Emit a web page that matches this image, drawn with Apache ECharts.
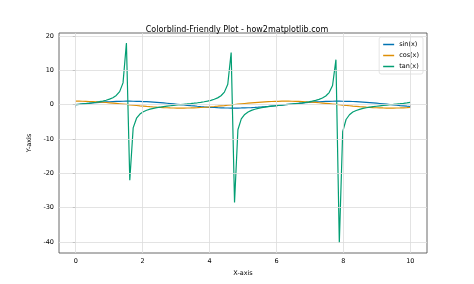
<!DOCTYPE html>
<html>
<head>
<meta charset="utf-8">
<script src="https://cdn.jsdelivr.net/npm/echarts@6/dist/echarts.min.js"></script>
<style>
html,body{margin:0;padding:0;background:#fff;}
#chart{width:474px;height:284px;}
</style>
</head>
<body>
<div id="chart"></div>
<script>
const xs = [0,0.101,0.202,0.303,0.404,0.505,0.606,0.707,0.808,0.909,1.010,1.111,1.212,1.313,1.414,1.515,1.616,1.717,1.818,1.919,2.020,2.121,2.222,2.323,2.424,2.525,2.626,2.727,2.828,2.929,3.030,3.131,3.232,3.333,3.434,3.535,3.636,3.737,3.838,3.939,4.040,4.141,4.242,4.343,4.444,4.545,4.646,4.747,4.848,4.949,5.051,5.152,5.253,5.354,5.455,5.556,5.657,5.758,5.859,5.960,6.061,6.162,6.263,6.364,6.465,6.566,6.667,6.768,6.869,6.970,7.071,7.172,7.273,7.374,7.475,7.576,7.677,7.778,7.879,7.980,8.081,8.182,8.283,8.384,8.485,8.586,8.687,8.788,8.889,8.990,9.091,9.192,9.293,9.394,9.495,9.596,9.697,9.798,9.899,10];

const sinV = [0,0.101,0.201,0.298,0.393,0.484,0.570,0.650,0.723,0.789,0.847,0.896,0.936,0.967,0.988,0.998,0.999,0.989,0.970,0.940,0.901,0.852,0.795,0.730,0.657,0.578,0.493,0.403,0.308,0.211,0.111,0.010,-0.091,-0.191,-0.289,-0.384,-0.475,-0.561,-0.642,-0.716,-0.783,-0.841,-0.892,-0.933,-0.964,-0.986,-0.998,-0.999,-0.991,-0.972,-0.943,-0.905,-0.858,-0.801,-0.737,-0.665,-0.586,-0.502,-0.412,-0.318,-0.221,-0.121,-0.021,0.080,0.180,0.279,0.374,0.466,0.553,0.634,0.709,0.776,0.836,0.887,0.929,0.962,0.984,0.997,1.000,0.992,0.974,0.947,0.907,0.863,0.808,0.744,0.673,0.595,0.511,0.421,0.328,0.231,0.131,0.031,-0.070,-0.170,-0.269,-0.365,-0.457,-0.544];

const cosV = [1,0.995,0.980,0.954,0.919,0.875,0.822,0.760,0.691,0.614,0.532,0.444,0.351,0.255,0.156,0.056,-0.045,-0.146,-0.245,-0.341,-0.434,-0.523,-0.606,-0.683,-0.754,-0.816,-0.870,-0.915,-0.951,-0.978,-0.994,-1.000,-0.996,-0.982,-0.957,-0.923,-0.880,-0.828,-0.767,-0.698,-0.623,-0.540,-0.453,-0.361,-0.265,-0.166,-0.066,0.035,0.136,0.235,0.332,0.425,0.514,0.598,0.676,0.747,0.810,0.865,0.911,0.948,0.975,0.993,1.000,0.997,0.984,0.960,0.927,0.885,0.833,0.773,0.706,0.631,0.548,0.462,0.370,0.275,0.176,0.076,-0.025,-0.125,-0.225,-0.322,-0.421,-0.505,-0.590,-0.668,-0.740,-0.804,-0.860,-0.907,-0.945,-0.973,-0.991,-1.000,-0.998,-0.985,-0.963,-0.931,-0.890,-0.839];

const tanV = [0,0.101,0.205,0.313,0.428,0.553,0.693,0.854,1.046,1.284,1.593,2.020,2.667,3.795,6.331,17.952,-22.029,-6.783,-3.960,-2.753,-2.073,-1.630,-1.312,-1.068,-0.872,-0.708,-0.566,-0.440,-0.324,-0.216,-0.112,-0.010,0.091,0.194,0.301,0.415,0.540,0.678,0.837,1.025,1.257,1.557,1.969,2.586,3.642,5.934,15.146,-28.494,-7.303,-4.138,-2.844,-2.129,-1.668,-1.340,-1.090,-0.891,-0.724,-0.580,-0.452,-0.335,-0.226,-0.122,-0.021,0.081,0.183,0.290,0.403,0.526,0.663,0.819,1.004,1.231,1.525,1.920,2.509,3.501,5.584,13.098,-40.302,-7.906,-4.333,-2.940,-2.153,-1.707,-1.369,-1.113,-0.909,-0.740,-0.594,-0.465,-0.347,-0.237,-0.133,-0.031,0.070,0.173,0.279,0.392,0.513,0.648];

const xTicks = [0,2,4,6,8,10];
const yTicks = [-40,-30,-20,-10,0,10,20];
const seriesNames = ['sin(x)','cos(x)','tan(x)'];
const colors = ['#0173b2','#de8f05','#029e73'];

const xMin = -0.5, xMax = 10.5, yMin = -43.215, yMax = 20.865;
const FONT = 'DejaVu Sans';

const pair = arr => xs.map((x,i)=>[x,arr[i]]);
const vals = [sinV,cosV,tanV];

const chart = echarts.init(document.getElementById('chart'), null, {renderer:'canvas'});
const gridLineStyle = {color:'#dcdcdc', width:0.8, type:'solid'};
chart.setOption({
  animation:false,
  backgroundColor:'#fff',
  title:{
    text:'Colorblind-Friendly Plot - how2matplotlib.com',
    left:'center', top:21,
    textStyle:{fontFamily:FONT, fontSize:8, fontWeight:'normal', color:'#000'}
  },
  legend:{
    data:seriesNames.map(n=>({name:n, icon:'rect'})),
    orient:'vertical', right:51, top:37,
    itemWidth:11, itemHeight:1.5, itemGap:4,
    backgroundColor:'rgba(255,255,255,0.8)',
    borderColor:'#dddddd', borderWidth:0.8, borderRadius:2,
    padding:[4,4,4,4],
    textStyle:{fontFamily:FONT, fontSize:6.5, color:'#000'}
  },
  grid:{left:59, right:47, top:33, bottom:31, show:true, borderColor:'#444', borderWidth:0.8, backgroundColor:'transparent'},
  xAxis:{
    type:'value', min:xMin, max:xMax,
    name:'X-axis', nameLocation:'middle', nameGap:14,
    nameTextStyle:{fontFamily:FONT, fontSize:6.5, color:'#000'},
    axisLine:{show:false},
    axisTick:{show:true, inside:false, length:3, customValues:xTicks, lineStyle:{color:'#444', width:0.8}},
    axisLabel:{customValues:xTicks, fontFamily:FONT, fontSize:6.5, color:'#000', margin:5},
    splitLine:{show:false}
  },
  yAxis:{
    type:'value', min:yMin, max:yMax,
    name:'Y-axis', nameLocation:'middle', nameGap:22, nameRotate:90,
    nameTextStyle:{fontFamily:FONT, fontSize:6.5, color:'#000'},
    axisLine:{show:false},
    axisTick:{show:true, inside:false, length:3, customValues:yTicks, lineStyle:{color:'#444', width:0.8}},
    axisLabel:{customValues:yTicks, fontFamily:FONT, fontSize:6.5, color:'#000', margin:5},
    splitLine:{show:false}
  },
  series:[
    {
      type:'line', name:'_grid', data:[], silent:true, z:1,
      markLine:{
        silent:true, symbol:'none', animation:false,
        label:{show:false},
        lineStyle:gridLineStyle,
        emphasis:{disabled:true},
        data:[...xTicks.map(v=>({xAxis:v})), ...yTicks.map(v=>({yAxis:v}))]
      }
    },
    ...seriesNames.map((n,k)=>({
      type:'line', name:n, data:pair(vals[k]), z:2+k,
      showSymbol:false, symbol:'none',
      lineStyle:{color:colors[k], width:1.2},
      itemStyle:{color:colors[k]}
    }))
  ]
});
</script>
</body>
</html>
